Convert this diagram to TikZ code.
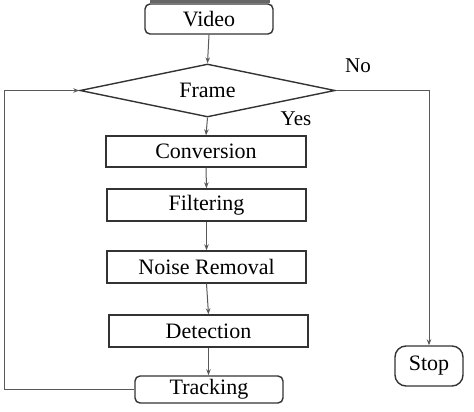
\documentclass[tikz,border=0pt]{standalone}
\usepackage{fontspec}
\setmainfont{Liberation Serif}
\usetikzlibrary{shapes.geometric,arrows.meta}
\begin{document}
\begin{tikzpicture}[x=1pt,y=-1pt,
  box/.style={draw=black!80,line width=1.4pt,minimum height=31pt,inner sep=0pt,font=\fontsize{22}{24}\selectfont},
  rbox/.style={box,rounded corners=5pt},
  conn/.style={draw=black!65,line width=1pt,-{Stealth[length=6pt,width=4.5pt]}},
  lbl/.style={font=\fontsize{21}{24}\selectfont,inner sep=0pt}]
\useasboundingbox (0,0) rectangle (474,412);
\fill[black!60] (150,0) rectangle (270,3);
\node[rbox,minimum width=128pt,minimum height=30pt] (video) at (209,19) {Video};
\node[diamond,draw=black!80,line width=1.4pt,aspect=4.8,minimum width=255pt,minimum height=53pt,inner sep=0pt,font=\fontsize{22}{24}\selectfont] (frame) at (207.5,90.5) {Frame};
\node[box,minimum width=200pt] (conv) at (206,151.5) {Conversion};
\node[box,minimum width=199pt,minimum height=32pt] (filt) at (206.5,205) {Filtering};
\node[box,minimum width=199pt,minimum height=32pt] (noise) at (206.5,267) {Noise Removal};
\node[box,minimum width=199pt,minimum height=32pt] (det) at (208.5,331) {Detection};
\node[rbox,minimum width=148pt,minimum height=27pt] (track) at (209,389.5) {Tracking};
\node[box,rounded corners=11pt,minimum width=68pt,minimum height=40pt] (stop) at (429,366) {Stop};
\node[lbl] (no) at (358,66) {No};
\node[lbl] (yes) at (296,119) {Yes};
\coordinate (lp) at (4,389.5);
\draw[conn] (video.south) -- (frame.north);
\draw[conn] (frame.south) -- (conv.north);
\draw[conn] (conv.south) -- (filt.north);
\draw[conn] (filt.south) -- (noise.north);
\draw[conn] (noise.south) -- (det.north);
\draw[conn] (det.south) -- (det.south|-track.north);
\draw[conn] (track.west) -- (lp) |- (frame.west);
\draw[conn] (frame.east) -| (stop.north);
\end{tikzpicture}
\end{document}
